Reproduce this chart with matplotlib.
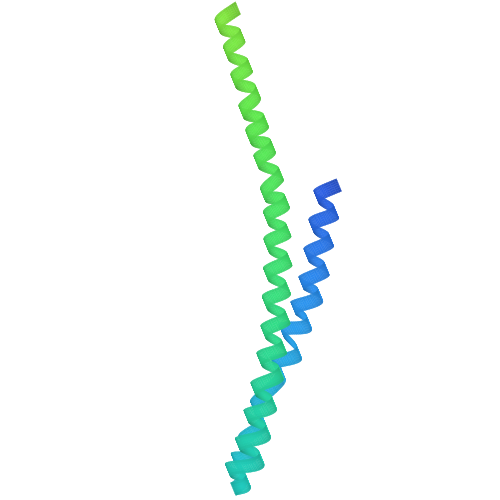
#!/usr/bin/env python3
"""Ribbon view of a long two-part helix, traced from the picture."""
import numpy as np
import matplotlib
matplotlib.use('Agg')
import matplotlib.pyplot as plt
from matplotlib.collections import PolyCollection
from matplotlib.colors import to_rgb

# turning points of each chain, top to bottom (one start point, then left/right pairs)
upper_x = [238, 217, 218, 242, 243, 225, 227, 250, 250, 232, 235, 258, 258, 240, 243, 267, 265,
           247, 250, 273, 273, 255, 258, 282, 280, 262, 264, 287, 287, 265, 267, 289, 288, 265,
           268, 290, 289, 265, 267, 289, 287, 263, 267, 288, 287, 262, 265, 285, 283, 258, 261,
           282, 280, 252, 255, 275, 273, 245, 248, 269, 267, 236, 240, 263, 260, 226, 230, 249,
           247, 233]
upper_y = [8, 22, 30, 33, 38, 50, 57, 63, 68, 78, 85, 88, 97, 110, 115, 118, 125,
           133, 142, 143, 150, 160, 165, 172, 177, 192, 198, 198, 205, 215, 222, 228, 233, 242,
           250, 257, 262, 272, 277, 285, 292, 300, 307, 315, 320, 330, 335, 345, 350, 357, 363,
           370, 377, 387, 392, 400, 408, 415, 419, 427, 437, 443, 447, 455, 465, 468, 473, 478,
           486, 489]
lower_x = [339, 315, 318, 337, 335, 310, 313, 332, 330, 305, 308, 328, 325, 300, 303, 322, 318,
           292, 295, 310, 308, 280, 283, 300, 298, 272, 275, 285, 278, 252, 254, 266, 260, 240,
           243, 256, 250, 232, 236, 245, 243, 234]
lower_y = [185, 195, 200, 210, 215, 223, 230, 238, 243, 253, 258, 267, 272, 282, 285, 293, 300,
           307, 310, 320, 328, 328, 334, 350, 357, 362, 366, 373, 383, 405, 410, 420, 428, 440,
           445, 450, 458, 458, 463, 472, 482, 489]

# colour along each chain, keyed on picture height
upper_stop_y = [8, 120, 250, 340, 420, 490]
upper_stop_c = ['#86ea3e', '#5eec4e', '#42e66e', '#2edd8e', '#26d4aa', '#22ccc0']
lower_stop_y = [185, 260, 330, 400, 490]
lower_stop_c = ['#2c5ce4', '#2c82f0', '#2aa0f0', '#24b8dc', '#22c8c8']

PEN = np.array([0.38, 0.92]) * 6.8   # half width of the ribbon, along the helix axis


def chain_color(y, stop_y, stop_c):
    rgb = np.array([to_rgb(c) for c in stop_c])
    return np.column_stack([np.interp(y, stop_y, rgb[:, i]) for i in range(3)])


def quad_piece(p0, p1, p2, n=14):
    t = np.linspace(0, 1, n)[:, None]
    return (1 - t) ** 2 * p0 + 2 * t * (1 - t) * p1 + t ** 2 * p2


def strand_line(pts, k):
    # strand k: from the middle of one turn pair to the middle of the next
    if k == 0:
        m = (pts[0] + pts[1]) / 2
        return np.vstack([np.linspace(pts[0], m, 6),
                          quad_piece(m, pts[1], (pts[1] + pts[2]) / 2)])
    a = (pts[2 * k - 1] + pts[2 * k]) / 2
    b, c = pts[2 * k], pts[2 * k + 1]
    m = (b + c) / 2
    parts = [quad_piece(a, b, m)]
    if 2 * k + 2 < len(pts):
        parts.append(quad_piece(m, c, (c + pts[2 * k + 2]) / 2))
    else:
        parts.append(np.linspace(m, c, 8))
    return np.vstack(parts)


def draw_strand(ax, line, stop_y, stop_c, back, z, bands=6):
    n = len(line)
    s = np.linspace(0, 1, n)
    quads, cols = [], []
    if back:
        # the underside, dark where it leaves the left turn
        along = 0.66 + 0.34 * np.minimum(1, s * 2.2) ** 0.8
    else:
        along = 0.86 + 0.14 * np.sin(np.pi * s)
    base = chain_color(line[:, 1], stop_y, stop_c)
    edges = np.linspace(-1, 1, bands + 1)
    for i in range(n - 1):
        for j in range(bands):
            e0, e1 = edges[j], edges[j + 1]
            quads.append([line[i] + PEN * e0, line[i + 1] + PEN * e0,
                          line[i + 1] + PEN * e1, line[i] + PEN * e1])
            across = 1.0 - 0.08 * abs((e0 + e1) / 2) ** 2
            cols.append(np.clip(base[i] * along[i] * across, 0, 1))
    pc = PolyCollection(quads, facecolors=cols, edgecolors=cols, linewidths=0.25, zorder=z)
    ax.add_collection(pc)


def draw_chain(ax, xs, ys, stop_y, stop_c, z):
    pts = np.column_stack([xs, ys]).astype(float)
    for k in range((len(pts) - 1) // 2 + 1):
        if 2 * k >= len(pts) - 1:
            continue
        line = strand_line(pts, k)
        # strands heading right and down sit behind those heading left and down
        back = line[-1, 0] > line[0, 0]
        draw_strand(ax, line, stop_y, stop_c, back, z + (0 if back else 1))


fig = plt.figure(figsize=(5, 5), dpi=100)
ax = fig.add_axes([0, 0, 1, 1])
ax.set_xlim(0, 500)
ax.set_ylim(500, 0)
ax.axis('off')

draw_chain(ax, lower_x, lower_y, lower_stop_y, lower_stop_c, 1)
draw_chain(ax, upper_x, upper_y, upper_stop_y, upper_stop_c, 3)

fig.savefig('out.png', dpi=100, facecolor='white')
